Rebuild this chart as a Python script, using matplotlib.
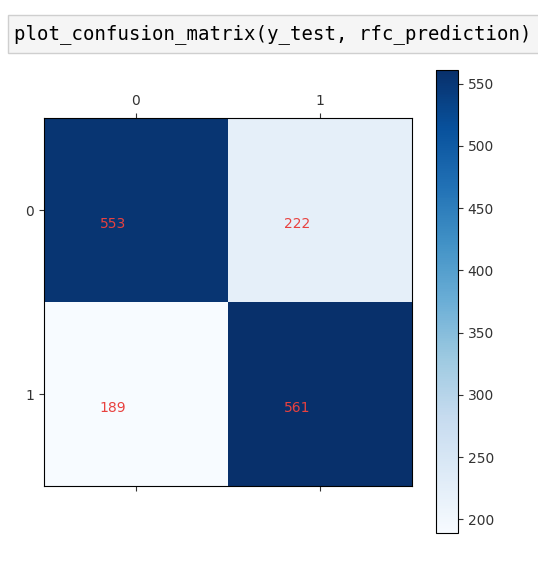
import numpy as np
import matplotlib.pyplot as plt
from matplotlib.patches import Rectangle

classes = ['0', '1']
cm = np.array([[553, 222],
               [189, 561]])
cbar_ticks = [200, 250, 300, 350, 400, 450, 500, 550]
code_line = 'plot_confusion_matrix(y_test, rfc_prediction)'

fig = plt.figure(figsize=(5.38, 5.64), dpi=100)

# notebook cell with the code
fig.patches.append(Rectangle((8 / 538, 1 - 53 / 564), 1.0, 38 / 564,
                             transform=fig.transFigure, facecolor='#f5f5f5',
                             edgecolor='#cfcfcf', linewidth=1))
fig.text(14 / 538, 1 - 34 / 564, code_line, family='DejaVu Sans Mono',
         fontsize=13.7, va='center', ha='left')

ax = fig.add_axes([44 / 538, 1 - 487 / 564, 368 / 538, 370 / 564])
cax = fig.add_axes([436 / 538, 1 - 533 / 564, 22 / 538, 463 / 564])

im = ax.imshow(cm, cmap='Blues', interpolation='nearest')
ax.set_xticks(range(len(classes)))
ax.set_yticks(range(len(classes)))
ax.set_xticklabels(classes)
ax.set_yticklabels(classes)
ax.tick_params(top=True, labeltop=True, bottom=True, labelbottom=False,
               labelsize=10, colors='#333333')
for i in range(cm.shape[0]):
    for j in range(cm.shape[1]):
        ax.text(j - 0.125, i + 0.075, str(cm[i, j]), color='#e8413f',
                ha='center', va='center', fontsize=10)

cb = fig.colorbar(im, cax=cax)
cb.set_ticks(cbar_ticks)
cb.ax.tick_params(labelsize=10, colors='#333333')

fig.savefig('out.png', dpi=100)
